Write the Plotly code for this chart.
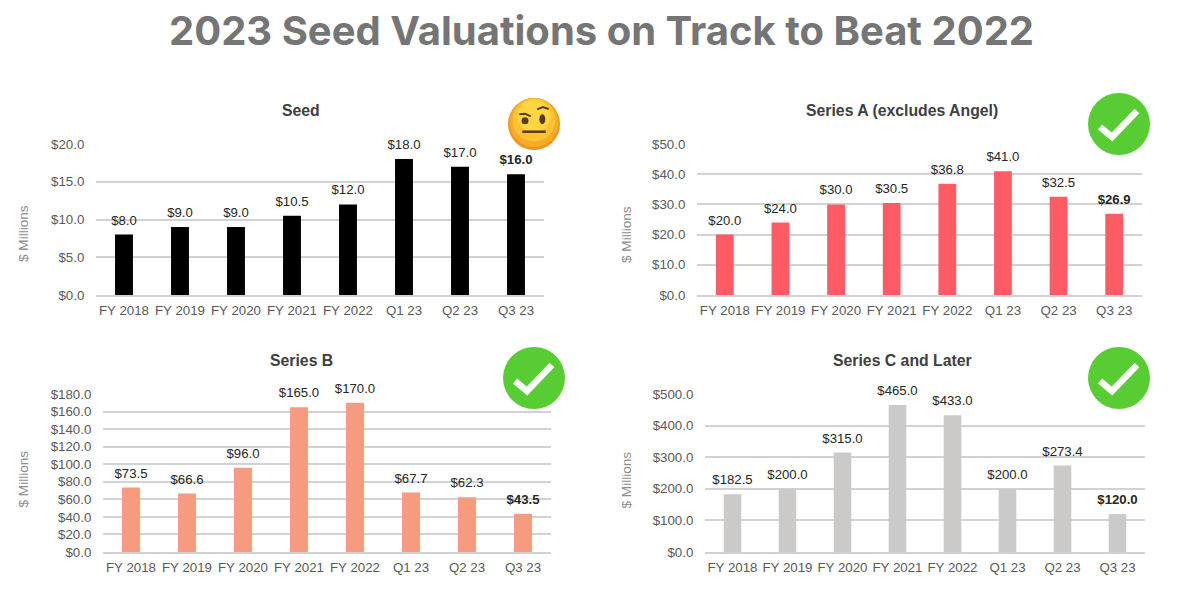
import plotly.graph_objects as go

W, H = 1200, 600
categories = ["FY 2018", "FY 2019", "FY 2020", "FY 2021", "FY 2022", "Q1 23", "Q2 23", "Q3 23"]

seed_values = [8.0, 9.0, 9.0, 10.5, 12.0, 18.0, 17.0, 16.0]
series_a_values = [20.0, 24.0, 30.0, 30.5, 36.8, 41.0, 32.5, 26.9]
series_b_values = [73.5, 66.6, 96.0, 165.0, 170.0, 67.7, 62.3, 43.5]
series_c_values = [182.5, 200.0, 315.0, 465.0, 433.0, 200.0, 273.4, 120.0]

seed_ticks = [0, 5, 10, 15, 20]
series_a_ticks = [0, 10, 20, 30, 40, 50]
series_b_ticks = [0, 20, 40, 60, 80, 100, 120, 140, 160, 180]
series_c_ticks = [0, 100, 200, 300, 400, 500]

panels = [
    dict(title="Seed", vals=seed_values, ticks=seed_ticks, color="#000000",
         box=(96, 544, 144, 295), tx=301, ty=110, yt=(23, 234)),
    dict(title="Series A (excludes Angel)", vals=series_a_values, ticks=series_a_ticks, color="#FF5B64",
         box=(697, 1142, 144, 295), tx=902, ty=110, yt=(626, 234)),
    dict(title="Series B", vals=series_b_values, ticks=series_b_ticks, color="#F69A80",
         box=(103, 551, 394, 552), tx=301, ty=360, yt=(23, 479.5)),
    dict(title="Series C and Later", vals=series_c_values, ticks=series_c_ticks, color="#CCC9C9",
         box=(705, 1145, 394, 552), tx=902, ty=360, yt=(626, 479.5)),
]

FONT = "Liberation Sans"
TICK = "#595959"
GRID = "#D2D2D2"


def px(x):
    return x / W


def py(y):
    return 1 - y / H


fig = go.Figure()
annotations, shapes = [], []
layout = {}

for i, p in enumerate(panels, start=1):
    x0, x1, ytop, ybot = p["box"]
    xa, ya = f"x{i}", f"y{i}"
    n = "" if i == 1 else str(i)
    vals = p["vals"]
    fig.add_trace(go.Bar(x=categories, y=vals, marker=dict(color=p["color"], line_width=0),
                         xaxis=xa, yaxis=ya, width=0.32, hoverinfo="x+y"))
    labels = [f"${v:,.1f}" for v in vals]
    labels[-1] = f"<b>{labels[-1]}</b>"
    fig.add_trace(go.Scatter(x=categories, y=vals, mode="markers+text", text=labels,
                             textposition="top center", cliponaxis=False,
                             textfont=dict(family=FONT, size=13.2, color="#262626"),
                             marker=dict(size=9, opacity=0), xaxis=xa, yaxis=ya, hoverinfo="skip"))
    layout[f"xaxis{n}"] = dict(domain=[px(x0), px(x1)], anchor=ya, type="category",
                               categoryorder="array", categoryarray=categories, range=[-0.5, 7.5],
                               showgrid=False, showline=True, linecolor=GRID, linewidth=2,
                               ticks="outside", ticklen=2, tickcolor="rgba(0,0,0,0)",
                               tickfont=dict(family=FONT, size=13.3, color=TICK), tickangle=0)
    layout[f"yaxis{n}"] = dict(domain=[py(ybot), py(ytop)], anchor=xa,
                               range=[p["ticks"][0], p["ticks"][-1]],
                               tickmode="array", tickvals=p["ticks"],
                               ticktext=[f"${t:.1f}" for t in p["ticks"]],
                               showgrid=True, gridcolor=GRID, gridwidth=2, zeroline=False,
                               ticks="outside", ticklen=8, tickcolor="rgba(0,0,0,0)",
                               tickfont=dict(family=FONT, size=13.3, color=TICK))
    annotations.append(dict(text=f"<b>{p['title']}</b>", x=px(p["tx"]), y=py(p["ty"]),
                            xref="paper", yref="paper", showarrow=False, xanchor="center", yanchor="middle",
                            font=dict(family=FONT, size=15.8, color="#404040")))
    annotations.append(dict(text="$ Millions", x=px(p["yt"][0]), y=py(p["yt"][1]),
                            xref="paper", yref="paper", showarrow=False, textangle=-90,
                            xanchor="center", yanchor="middle",
                            font=dict(family=FONT, size=13.6, color="#8C8C8C")))

annotations.append(dict(text="<b>2023 Seed Valuations on Track to Beat 2022</b>", x=px(601), y=py(31),
                        xref="paper", yref="paper", showarrow=False, xanchor="center", yanchor="middle",
                        font=dict(family="Inter", size=40, color="#757575")))


def ellipse(cx, cy, rx, ry, color):
    return dict(type="circle", xref="paper", yref="paper", layer="above", line_width=0, fillcolor=color,
                x0=px(cx - rx), x1=px(cx + rx), y0=py(cy + ry), y1=py(cy - ry))


def poly(points, color, width):
    d = "M" + " L".join(f"{px(x):.5f},{py(y):.5f}" for x, y in points)
    return dict(type="path", path=d, xref="paper", yref="paper", layer="above",
                line=dict(color=color, width=width), fillcolor="rgba(0,0,0,0)")


# green check badges
for cx, cy in [(1119, 124), (534, 378), (1119, 378)]:
    shapes.append(ellipse(cx, cy, 31, 31, "#57CC33"))
    shapes.append(poly([(cx - 19, cy + 3), (cx - 7, cy + 13), (cx + 18, cy - 13)], "#FFFFFF", 6.5))

# raised-eyebrow face
ex, ey = 534, 124
shapes.append(ellipse(ex, ey, 26, 26, "#F0941E"))
shapes.append(ellipse(ex, ey - 1.5, 24.5, 24.5, "#F6AC28"))
shapes.append(ellipse(ex, ey - 4, 21.5, 21.5, "#FBC232"))
shapes.append(ellipse(ex, ey - 8, 16.5, 16.5, "#FED640"))
shapes.append(ellipse(ex - 9, ey - 3.3, 3.5, 3.5, "#5A3A1A"))
shapes.append(ellipse(ex + 8.3, ey - 4.7, 3, 5, "#5A3A1A"))
shapes.append(poly([(ex - 11.7, ey + 7.7), (ex + 11.7, ey + 7.7)], "#5A3A1A", 2.5))
shapes.append(poly([(ex - 14.7, ey - 9.7), (ex - 9, ey - 10.3), (ex - 3.3, ey - 7.7)], "#5A3A1A", 2))
shapes.append(poly([(ex + 3.3, ey - 14.7), (ex + 8.7, ey - 17), (ex + 14.7, ey - 15)], "#5A3A1A", 2))

fig.update_layout(width=W, height=H, margin=dict(l=0, r=0, t=0, b=0, autoexpand=False), showlegend=False,
                  paper_bgcolor="#FFFFFF", plot_bgcolor="#FFFFFF", annotations=annotations, shapes=shapes,
                  **layout)
fig.write_html("out.html", config={"displayModeBar": False},
               post_script="document.documentElement.style.margin='0';document.body.style.margin='0';")
